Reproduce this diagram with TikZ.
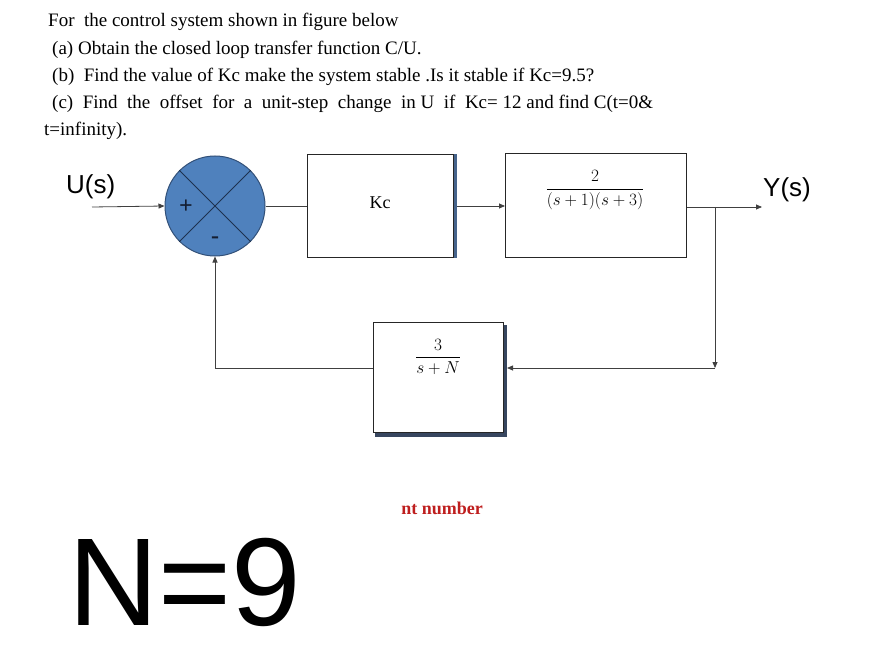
\documentclass[tikz,border=0pt]{standalone}
\usepackage{amsmath}
\usepackage{fontspec}
\setmainfont{Liberation Serif}
\newfontfamily\arialf{Liberation Sans}
\usetikzlibrary{arrows.meta}
\definecolor{sumfill}{RGB}{79,129,189}
\definecolor{sumedge}{RGB}{50,80,120}
\definecolor{xline}{RGB}{30,50,80}
\definecolor{signc}{RGB}{20,30,50}
\definecolor{kcbar}{RGB}{70,100,140}
\definecolor{hshadow}{RGB}{55,70,95}
\definecolor{redtxt}{RGB}{190,30,30}
\begin{document}
\begin{tikzpicture}[x=1pt,y=-1pt,
  txt/.style={anchor=west,inner sep=0pt,font=\fontsize{19}{21}\selectfont},
  blk/.style={draw=black!85,line width=1.2pt,fill=white},
  wire/.style={draw=black!75,line width=0.8pt},
  arr/.style={wire,-{Triangle[length=6pt,width=5pt]}}]
\useasboundingbox (0,0) rectangle (894,671);
\node[txt] (t1) at (48,22) {For\ \ the control system shown in figure below};
\node[txt] (t2) at (52,50) {(a) Obtain the closed loop transfer function C/U.};
\node[txt] (t3) at (52,77) {(b)\ \ Find the value of Kc make the system stable .Is it stable if Kc=9.5?};
\node[txt] (t4) at (52,104) {(c)\ \ Find\ \ the\ \ offset\ \ for\ \ a\ \ unit-step\ \ change\ \ in U\ \ if\ \ Kc= 12 and find C(t=0\&};
\node[txt] (t5) at (44,131) {t=infinity).};
\node[anchor=west,inner sep=0pt,font=\arialf\fontsize{26}{28}\selectfont] (u) at (66,187) {U(s)};
\node[anchor=west,inner sep=0pt,font=\arialf\fontsize{26}{28}\selectfont] (y) at (763,190) {Y(s)};
% summing junction
\node[circle,minimum size=100pt,inner sep=0pt,fill=sumfill,draw=sumedge,line width=1pt] (sum) at (215,206) {};
\draw[xline,line width=0.9pt] (sum.north west) -- (sum.south east) (sum.north east) -- (sum.south west);
\node[font=\bfseries\fontsize{24}{24}\selectfont,text=signc] (plus) at (186,207) {+};
\node[font=\bfseries\fontsize{24}{24}\selectfont,text=signc] (minus) at (215,240) {-};
% blocks
\fill[kcbar] (451,154) rectangle (457,258);
\node[blk,minimum width=146pt,minimum height=103pt,anchor=north west] (kc) at (307,154) {};
\node[font=\fontsize{18}{20}\selectfont] (kct) at (380,203) {Kc};
\node[blk,minimum width=181pt,minimum height=104pt,anchor=north west] (g) at (505,153) {};
\node[font=\fontsize{17}{20}\selectfont] (gt) at (595,190) {$\dfrac{2}{(s+1)(s+3)}$};
\fill[hshadow] (375,325) rectangle (507,437);
\node[blk,minimum width=130pt,minimum height=110pt,anchor=north west] (h) at (373,322) {};
\node[font=\fontsize{17}{20}\selectfont] (ht) at (438,357) {$\dfrac{3}{s+N}$};
% wires
\coordinate (in) at (92,207);
\coordinate (br) at (715,207);
\coordinate (out) at (762,207);
\coordinate (bd) at (715,368);
\coordinate (hr) at (507,368);
\coordinate (fl) at (215,368);
\coordinate (kco) at (457,206);
\draw[arr] (in) -- (sum.west);
\draw[wire] (sum.east) -- (kc.west |- sum.east);
\draw[arr] (kco) -- (g.west |- kco);
\draw[arr] (g.east |- br) -- (out);
\draw[arr] (br) -- (bd);
\draw[arr] (bd) -- (hr);
\draw[wire] (h.west |- fl) -- (fl);
\draw[arr] (fl) -- (sum.south);
\node[font=\bfseries\fontsize{18}{20}\selectfont,text=redtxt] (nt) at (442,508) {nt number};
\node[anchor=west,inner sep=0pt,font=\arialf\fontsize{125}{125}\selectfont] (n9) at (68,582) {N=9};
\end{tikzpicture}
\end{document}
